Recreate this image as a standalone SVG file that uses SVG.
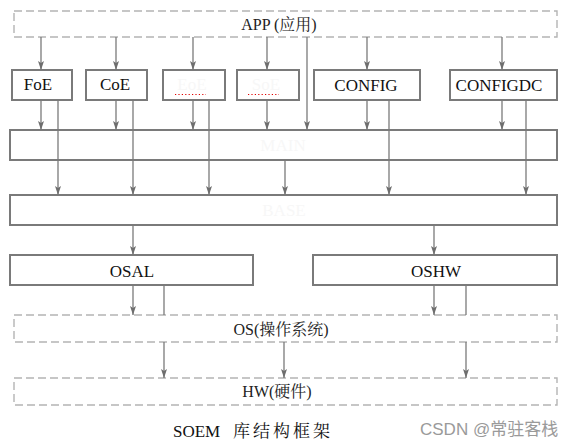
<svg xmlns="http://www.w3.org/2000/svg" width="572" height="445" viewBox="0 0 572 445">
<defs>
<marker id="ah" markerWidth="9" markerHeight="6" refX="9" refY="3" orient="auto" markerUnits="userSpaceOnUse" viewBox="0 0 9 6">
<path d="M0,0 L9,3 L0,6 L2,3 Z" fill="#6e6e6e"/>
</marker>
<style>
.dash{fill:#fff;stroke:#b4b4b4;stroke-width:1.4;stroke-dasharray:8 4}
.box{fill:#fff;stroke:#7a7a7a;stroke-width:2}
.lbl{font-family:"Liberation Serif","Noto Sans CJK SC",serif;font-size:17px;fill:#111;text-anchor:middle}
.cjk{font-family:"Liberation Serif","Noto Serif CJK SC","Noto Sans CJK SC",serif;font-size:16px;fill:#222;text-anchor:middle}
.ghost{fill:#f7f7f7}
.dots{stroke:#e00000;stroke-width:1.2;stroke-dasharray:1.2 2.2}
#connectors line{stroke:#7a7a7a;stroke-width:1.3}
.arr{marker-end:url(#ah)}
</style>
</defs>
<rect width="572" height="445" fill="#fff"/>

<g id="app">
<rect class="dash" x="14" y="11" width="543" height="26"/>
<text class="cjk" x="279" y="30">APP (应用)</text>
</g>

<g id="foe">
<rect class="box" x="12" y="70" width="60" height="30"/>
<text class="lbl" x="38" y="90">FoE</text>
</g>
<g id="coe">
<rect class="box" x="86" y="70" width="61" height="30"/>
<text class="lbl" x="115" y="90">CoE</text>
</g>
<g id="eoe">
<rect class="box" x="163" y="70" width="62" height="30"/>
<text class="lbl ghost" x="192" y="90">EoE</text>
<line class="dots" x1="175" y1="94.5" x2="206" y2="94.5"/>
</g>
<g id="soe">
<rect class="box" x="237" y="70" width="62" height="30"/>
<text class="lbl ghost" x="266" y="90">SoE</text>
<line class="dots" x1="248" y1="94.5" x2="279" y2="94.5"/>
</g>
<g id="config">
<rect class="box" x="314" y="70" width="106" height="30"/>
<text class="lbl" x="366" y="91">CONFIG</text>
</g>
<g id="configdc">
<rect class="box" x="450" y="70" width="107" height="30"/>
<text class="lbl" x="499" y="91">CONFIGDC</text>
</g>

<g id="main">
<rect class="box" x="10" y="130" width="547" height="30"/>
<text class="lbl ghost" x="283" y="151">MAIN</text>
</g>
<g id="base">
<rect class="box" x="10" y="195" width="547" height="30"/>
<text class="lbl ghost" x="284" y="216">BASE</text>
</g>

<g id="osal">
<rect class="box" x="10" y="255" width="243" height="30"/>
<text class="lbl" x="132" y="277">OSAL</text>
</g>
<g id="oshw">
<rect class="box" x="313" y="255" width="244" height="30"/>
<text class="lbl" x="436" y="277">OSHW</text>
</g>

<g id="os">
<rect class="dash" x="14" y="315" width="543" height="27"/>
<text class="cjk" x="281" y="335">OS(操作系统)</text>
</g>
<g id="hw">
<rect class="dash" x="14" y="378" width="543" height="27"/>
<text class="cjk" x="277" y="397">HW(硬件)</text>
</g>

<g id="connectors">
<line class="arr" x1="41" y1="37" x2="41" y2="70"/>
<line class="arr" x1="116" y1="37" x2="116" y2="70"/>
<line class="arr" x1="193" y1="37" x2="193" y2="70"/>
<line class="arr" x1="267" y1="37" x2="267" y2="70"/>
<line class="arr" x1="307" y1="37" x2="307" y2="130"/>
<line class="arr" x1="367" y1="37" x2="367" y2="70"/>
<line class="arr" x1="502" y1="37" x2="502" y2="70"/>
<line class="arr" x1="41" y1="100" x2="41" y2="130"/>
<line class="arr" x1="116" y1="100" x2="116" y2="130"/>
<line class="arr" x1="193" y1="100" x2="193" y2="130"/>
<line class="arr" x1="267" y1="100" x2="267" y2="130"/>
<line class="arr" x1="367" y1="100" x2="367" y2="130"/>
<line class="arr" x1="502" y1="100" x2="502" y2="130"/>
<line class="arr" x1="58" y1="100" x2="58" y2="195"/>
<line class="arr" x1="133" y1="100" x2="133" y2="195"/>
<line class="arr" x1="209" y1="100" x2="209" y2="195"/>
<line class="arr" x1="389" y1="100" x2="389" y2="195"/>
<line class="arr" x1="526" y1="100" x2="526" y2="195"/>
<line class="arr" x1="285" y1="160" x2="285" y2="195"/>
<line class="arr" x1="133" y1="225" x2="133" y2="255"/>
<line class="arr" x1="434" y1="225" x2="434" y2="255"/>
<line class="arr" x1="133" y1="285" x2="133" y2="315"/>
<line x1="164" y1="285" x2="164" y2="315"/>
<line class="arr" x1="164" y1="342" x2="164" y2="378"/>
<line class="arr" x1="434" y1="285" x2="434" y2="315"/>
<line x1="466" y1="285" x2="466" y2="315"/>
<line class="arr" x1="466" y1="342" x2="466" y2="378"/>
<line class="arr" x1="284" y1="342" x2="284" y2="378"/>
</g>

<g id="caption">
<text x="173" y="437" style="font-family:'Liberation Serif','Noto Serif CJK SC','Noto Sans CJK SC',serif;font-size:17px;fill:#111">SOEM<tspan x="233" style="letter-spacing:3px">库结构框架</tspan></text>
<text x="420" y="435" style="font-family:'Liberation Sans','Noto Sans CJK SC',sans-serif;font-size:17px;fill:#9a9a9a">CSDN @常驻客栈</text>
</g>
</svg>
